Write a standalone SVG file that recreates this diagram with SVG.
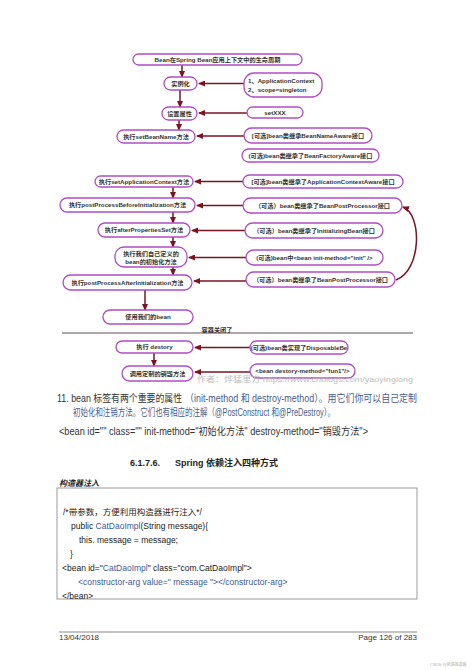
<svg xmlns="http://www.w3.org/2000/svg" width="474" height="670" viewBox="0 0 474 670">
<defs>
<marker id="ah" markerWidth="7" markerHeight="6" refX="6" refY="3" orient="auto" markerUnits="userSpaceOnUse">
<path d="M0,0 L7,3 L0,6 Z" fill="#7a1420"/>
</marker>
<style>
.pill{fill:#fff;stroke:#b04cc4;stroke-width:1.3}
.pt{font-family:"Liberation Sans","Noto Sans CJK SC",sans-serif;font-size:6.2px;font-weight:bold;fill:#333;text-anchor:middle}
.ptl{font-family:"Liberation Sans","Noto Sans CJK SC",sans-serif;font-size:6.2px;font-weight:bold;fill:#333}
.c{stroke:#7a1420;stroke-width:1.5;fill:none;marker-end:url(#ah)}
.body{font-family:"Liberation Sans","Noto Sans CJK SC",sans-serif;font-size:10px;fill:#333}
.blue{fill:#4a5b8c}
.code{font-family:"Liberation Sans","Noto Sans CJK SC",sans-serif;font-size:8.5px;fill:#222}
.cb{fill:#3a5a9a}
</style>
</defs>
<rect width="474" height="670" fill="#fff"/>

<g id="connectors">
<line class="c" x1="182" y1="65" x2="182" y2="77"/>
<line class="c" x1="180" y1="90" x2="180" y2="107"/>
<line class="c" x1="179" y1="120" x2="179" y2="130"/>
<line class="c" x1="173" y1="187" x2="173" y2="198"/>
<line class="c" x1="173" y1="212" x2="173" y2="223"/>
<line class="c" x1="173" y1="237" x2="173" y2="247"/>
<line class="c" x1="173" y1="267" x2="173" y2="275"/>
<line class="c" x1="145" y1="290" x2="145" y2="310"/>
<line class="c" x1="154" y1="353" x2="154" y2="366"/>
<line class="c" x1="244" y1="83.5" x2="199" y2="83.5"/>
<line class="c" x1="247" y1="113" x2="199" y2="113"/>
<line class="c" x1="244" y1="136" x2="197" y2="136"/>
<line class="c" x1="243" y1="181.5" x2="195" y2="181.5"/>
<line class="c" x1="243" y1="205.5" x2="197" y2="205.5"/>
<line class="c" x1="245" y1="230.5" x2="192" y2="230.5"/>
<line class="c" x1="246" y1="257.5" x2="189" y2="257.5"/>
<line class="c" x1="246" y1="281" x2="194" y2="281"/>
<line class="c" x1="250" y1="347.5" x2="195" y2="347.5"/>
<line class="c" x1="250" y1="372" x2="195" y2="372"/>
<path class="c" d="M396,280 C422,270 422,214 403,207"/>
</g>

<g id="n-top"><rect class="pill" x="133" y="54" width="169" height="11" rx="5.5"/><text class="pt" x="217.5" y="61.8">Bean在Spring Bean应用上下文中的生命周期</text></g>
<g id="n-inst"><rect class="pill" x="164" y="77" width="33" height="13" rx="6.5"/><text class="pt" x="180.5" y="85.7">实例化</text></g>
<g id="n-prop"><rect class="pill" x="162" y="107" width="35" height="13" rx="6.5"/><text class="pt" x="179.5" y="115.7">设置属性</text></g>
<g id="n-setname"><rect class="pill" x="117" y="130" width="78" height="13" rx="6.5"/><text class="pt" x="156" y="138.7">执行setBeanName方法</text></g>
<g id="n-setctx"><rect class="pill" x="95" y="176" width="98" height="11" rx="5.5"/><text class="pt" x="144" y="183.7">执行setApplicationContext方法</text></g>
<g id="n-before"><rect class="pill" x="60" y="198" width="135" height="14" rx="7"/><text class="pt" x="127.5" y="207.2">执行postProcessBeforeInitialization方法</text></g>
<g id="n-after"><rect class="pill" x="98" y="223" width="92" height="14" rx="7"/><text class="pt" x="144" y="232.2">执行afterPropertiesSet方法</text></g>
<g id="n-init"><rect class="pill" x="115" y="247" width="72" height="20" rx="9"/><text class="pt" x="151" y="255.5">执行我们自己定义的</text><text class="pt" x="151" y="263.5">bean的初始化方法</text></g>
<g id="n-postafter"><rect class="pill" x="63" y="275" width="129" height="15" rx="7.5"/><text class="pt" x="127.5" y="284.7">执行postProcessAfterInitialization方法</text></g>
<g id="n-use"><rect class="pill" x="103" y="310" width="90" height="14" rx="7"/><text class="pt" x="148" y="319.2">使用我们的bean</text></g>
<g id="n-destory"><rect class="pill" x="116" y="341" width="77" height="12" rx="6"/><text class="pt" x="154.5" y="349.2">执行 destory</text></g>
<g id="n-custdestroy"><rect class="pill" x="122" y="366" width="71" height="15" rx="7.5"/><text class="pt" x="157.5" y="375.7">调用定制的销毁方法</text></g>

<g id="r-appctx"><rect class="pill" x="244" y="73" width="78" height="24" rx="10"/><text class="ptl" x="248" y="83">1、ApplicationContext</text><text class="ptl" x="248" y="92">2、scope=singleton</text></g>
<g id="r-setxxx"><rect class="pill" x="247" y="107" width="56" height="11" rx="5.5"/><text class="pt" x="275" y="114.7">setXXX</text></g>
<g id="r-namearware"><rect class="pill" x="244" y="128" width="128" height="15" rx="7.5"/><text class="pt" x="308" y="137.7">[可选]bean类继承BeanNameAware接口</text></g>
<g id="r-factoryaware"><rect class="pill" x="242" y="149" width="137" height="13" rx="6.5"/><text class="pt" x="310.5" y="157.7">(可选)bean类继承了BeanFactoryAware接口</text></g>
<g id="r-ctxaware"><rect class="pill" x="243" y="175" width="160" height="13" rx="6.5"/><text class="pt" x="323" y="183.7">[可选]bean类继承了ApplicationContextAware接口</text></g>
<g id="r-bpp1"><rect class="pill" x="243" y="198" width="159" height="15" rx="7.5"/><text class="pt" x="322.5" y="207.7">（可选）bean类继承了BeanPostProcessor接口</text></g>
<g id="r-initbean"><rect class="pill" x="245" y="223" width="138" height="15" rx="7.5"/><text class="pt" x="314" y="232.7">（可选）bean类继承了InitializingBean接口</text></g>
<g id="r-initmethod"><rect class="pill" x="246" y="250" width="137" height="15" rx="7.5"/><text class="pt" x="314.5" y="259.7">(可选)bean中&lt;bean init-method="init" /&gt;</text></g>
<g id="r-bpp2"><rect class="pill" x="246" y="272" width="149" height="15" rx="7.5"/><text class="pt" x="320.5" y="281.7">（可选）bean类继承了BeanPostProcessor接口</text></g>
<g id="r-disposable"><rect class="pill" x="250" y="341" width="98" height="13" rx="6.5"/><text class="pt" x="299" y="349.7">(可选)bean类实现了DisposableBe</text></g>
<g id="r-destroymethod"><rect class="pill" x="250" y="364" width="105" height="14" rx="7"/><text class="pt" x="302.5" y="373.2">&lt;bean destory-method="fun1"/&gt;</text></g>

<g id="divider">
<line x1="62" y1="333" x2="413" y2="333" stroke="#6a4a5a" stroke-width="1.2"/>
<text class="pt" x="217" y="331.5">容器关闭了</text>
</g>

<text x="197" y="381.5" font-family="Liberation Sans, Noto Sans CJK SC, sans-serif" font-size="8" fill="#bdbdbd" textLength="216" lengthAdjust="spacingAndGlyphs">作者：烨猛里方  https://www.cnblogs.com/yaoyinglong</text>

<text class="body" x="57" y="402" textLength="125" lengthAdjust="spacingAndGlyphs">11. bean 标签有两个重要的属性</text>
<text class="body blue" x="185" y="402" textLength="232" lengthAdjust="spacingAndGlyphs">（init-method 和 destroy-method）。用它们你可以自己定制</text>
<text class="body blue" x="73" y="416" textLength="262" lengthAdjust="spacingAndGlyphs">初始化和注销方法。它们也有相应的注解（@PostConstruct 和@PreDestroy）。</text>
<text class="body" x="59" y="435" font-size="9" textLength="309" lengthAdjust="spacingAndGlyphs">&lt;bean id="" class="" init-method="初始化方法"  destroy-method="销毁方法"&gt;</text>

<text x="130" y="466" font-family="Liberation Sans, Noto Sans CJK SC, sans-serif" font-size="9" font-weight="bold" fill="#222">6.1.7.6.</text>
<text x="175" y="466" font-family="Liberation Sans, Noto Sans CJK SC, sans-serif" font-size="9" font-weight="bold" fill="#222">Spring 依赖注入四种方式</text>
<text x="59" y="486" font-family="Liberation Sans, Noto Sans CJK SC, sans-serif" font-size="8" font-weight="bold" font-style="italic" fill="#222">构造器注入</text>

<rect x="57" y="488" width="360" height="111" fill="#fff" stroke="#9a9a9a" stroke-width="1"/>
<text class="code" x="63" y="515">/*带参数，方便利用构造器进行注入*/</text>
<text class="code" x="71" y="529">public <tspan class="cb">CatDaoImpl</tspan>(String message){</text>
<text class="code" x="79" y="543">this. message = message;</text>
<text class="code" x="70" y="557">}</text>
<text class="code" x="62" y="571">&lt;bean id="<tspan class="cb">CatDaoImpl</tspan>" class="com.CatDaoImpl"&gt;</text>
<text class="code cb" x="78" y="585">&lt;constructor-arg value=" message "&gt;&lt;/constructor-arg&gt;</text>
<text class="code" x="62" y="599">&lt;/bean&gt;</text>

<line x1="59" y1="632" x2="417" y2="632" stroke="#888" stroke-width="1"/>
<text x="59" y="640" font-family="Liberation Sans, sans-serif" font-size="8" fill="#333">13/04/2018</text>
<text x="417" y="640" font-family="Liberation Sans, sans-serif" font-size="8" fill="#333" text-anchor="end">Page 126 of 283</text>
<text x="430" y="666" font-family="Liberation Sans, Noto Sans CJK SC, sans-serif" font-size="4" fill="#aaa">CSDN @风清扬逍遥</text>
</svg>
